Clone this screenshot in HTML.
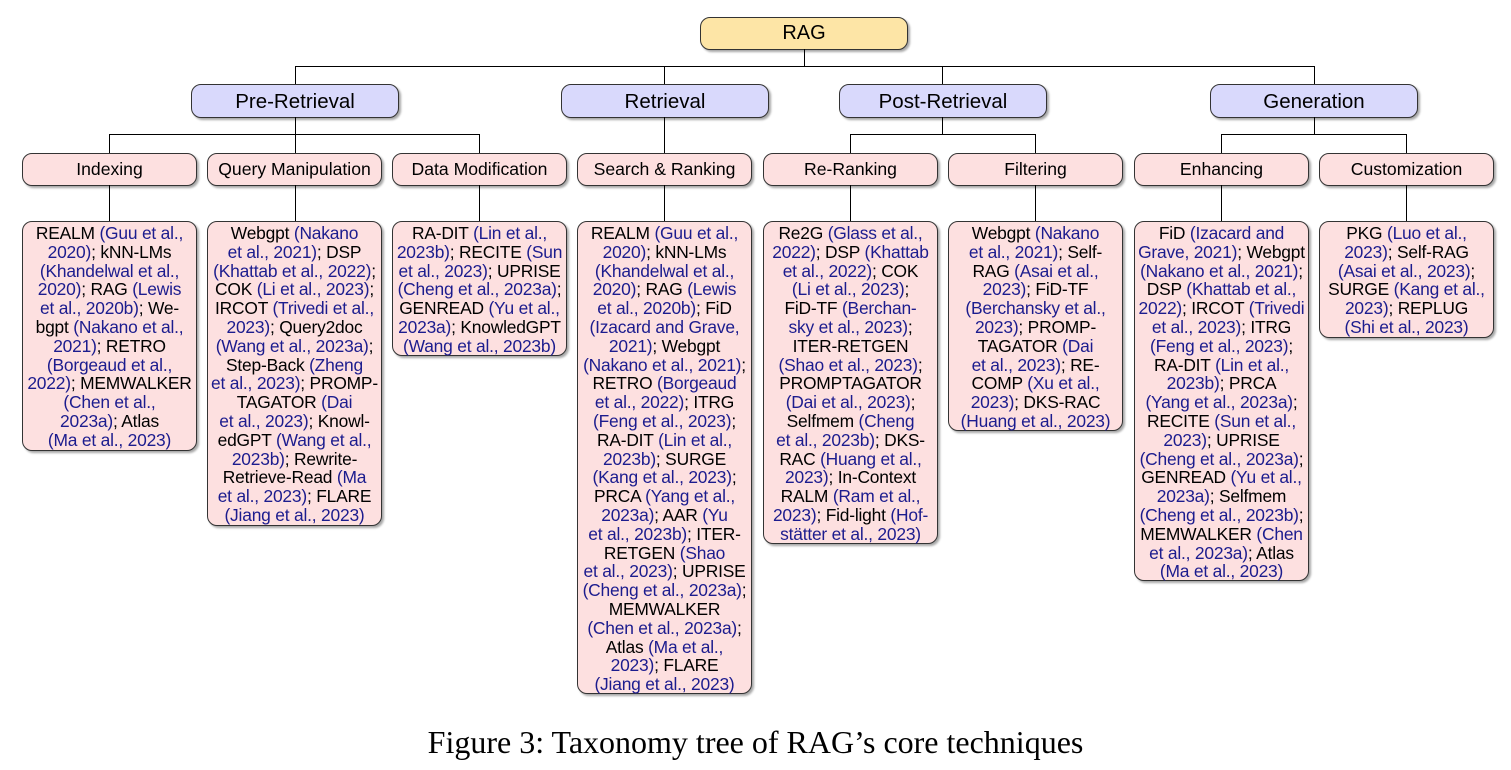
<!DOCTYPE html>
<html><head><meta charset="utf-8"><style>
body{margin:0;width:1511px;height:770px;background:#fff;position:relative;overflow:hidden;font-family:"Liberation Sans",sans-serif;}
.b{position:absolute;border:1.3px solid #333;border-radius:10px;box-sizing:border-box;box-shadow:2px 2px 2px rgba(0,0,0,0.35);text-align:center;color:#000;white-space:nowrap;}
.r{background:#fde5a6;font-size:20px;line-height:31px;}
.l1{background:#d9d9fc;font-size:20.5px;line-height:34px;}
.l2{background:#fde0e0;font-size:17.6px;line-height:30px;}
.lf{background:#fde0e0;font-size:17.4px;line-height:18.8px;padding-top:2px;letter-spacing:-0.2px;}
.c{color:#1c1c8e;}
.h{position:absolute;background:#000;height:1.3px;}
.v{position:absolute;background:#000;width:1.3px;}
.cap{position:absolute;top:724px;left:0;width:1511px;text-align:center;font-family:"Liberation Serif",serif;font-size:32px;}
</style></head><body>
<div class="b r" style="left:700px;top:17px;width:208px;height:33px">RAG</div>

<div class="v" style="left:804px;top:49px;height:17px"></div>
<div class="h" style="left:295px;top:66px;width:1020px"></div>
<div class="v" style="left:295px;top:66px;height:18px"></div>
<div class="v" style="left:664px;top:66px;height:18px"></div>
<div class="v" style="left:942px;top:66px;height:18px"></div>
<div class="v" style="left:1314px;top:66px;height:18px"></div>

<div class="b l1" style="left:191px;top:84px;width:208px;height:34px">Pre-Retrieval</div>
<div class="b l1" style="left:561px;top:84px;width:208px;height:34px">Retrieval</div>
<div class="b l1" style="left:839px;top:84px;width:208px;height:34px">Post-Retrieval</div>
<div class="b l1" style="left:1210px;top:84px;width:208px;height:34px">Generation</div>

<div class="v" style="left:295px;top:117px;height:18px"></div>
<div class="h" style="left:109px;top:134px;width:371px"></div>
<div class="v" style="left:109px;top:134px;height:19px"></div>
<div class="v" style="left:295px;top:134px;height:19px"></div>
<div class="v" style="left:479px;top:134px;height:19px"></div>
<div class="v" style="left:664px;top:117px;height:36px"></div>
<div class="v" style="left:942px;top:117px;height:18px"></div>
<div class="h" style="left:850px;top:134px;width:186px"></div>
<div class="v" style="left:850px;top:134px;height:19px"></div>
<div class="v" style="left:1035px;top:134px;height:19px"></div>
<div class="v" style="left:1314px;top:117px;height:18px"></div>
<div class="h" style="left:1221px;top:134px;width:186px"></div>
<div class="v" style="left:1221px;top:134px;height:19px"></div>
<div class="v" style="left:1406px;top:134px;height:19px"></div>

<div class="b l2" style="left:22px;top:153px;width:175px;height:33px">Indexing</div>
<div class="b l2" style="left:207px;top:153px;width:175px;height:33px">Query Manipulation</div>
<div class="b l2" style="left:392px;top:153px;width:175px;height:33px">Data Modification</div>
<div class="b l2" style="left:577px;top:153px;width:175px;height:33px">Search &amp; Ranking</div>
<div class="b l2" style="left:763px;top:153px;width:175px;height:33px">Re-Ranking</div>
<div class="b l2" style="left:948px;top:153px;width:175px;height:33px">Filtering</div>
<div class="b l2" style="left:1134px;top:153px;width:175px;height:33px">Enhancing</div>
<div class="b l2" style="left:1319px;top:153px;width:175px;height:33px">Customization</div>

<div class="v" style="left:109px;top:185px;height:36px"></div>
<div class="v" style="left:295px;top:185px;height:36px"></div>
<div class="v" style="left:479px;top:185px;height:36px"></div>
<div class="v" style="left:664px;top:185px;height:36px"></div>
<div class="v" style="left:850px;top:185px;height:36px"></div>
<div class="v" style="left:1035px;top:185px;height:36px"></div>
<div class="v" style="left:1221px;top:185px;height:36px"></div>
<div class="v" style="left:1406px;top:185px;height:36px"></div>

<div class="b lf" style="left:22px;top:221px;width:175px;height:230px">REALM <span class="c">(Guu et al.,</span><br><span class="c">2020)</span>; kNN-LMs<br><span class="c">(Khandelwal et al.,</span><br><span class="c">2020)</span>; RAG <span class="c">(Lewis</span><br><span class="c">et al., 2020b)</span>; We-<br>bgpt <span class="c">(Nakano et al.,</span><br><span class="c">2021)</span>; RETRO<br><span class="c">(Borgeaud et al.,</span><br><span class="c">2022)</span>; MEMWALKER<br><span class="c">(Chen et al.,</span><br><span class="c">2023a)</span>; Atlas<br><span class="c">(Ma et al., 2023)</span></div>

<div class="b lf" style="left:207px;top:221px;width:175px;height:305px">Webgpt <span class="c">(Nakano</span><br><span class="c">et al., 2021)</span>; DSP<br><span class="c">(Khattab et al., 2022)</span>;<br>COK <span class="c">(Li et al., 2023)</span>;<br>IRCOT <span class="c">(Trivedi et al.,</span><br><span class="c">2023)</span>; Query2doc<br><span class="c">(Wang et al., 2023a)</span>;<br>Step-Back <span class="c">(Zheng</span><br><span class="c">et al., 2023)</span>; PROMP-<br>TAGATOR <span class="c">(Dai</span><br><span class="c">et al., 2023)</span>; Knowl-<br>edGPT <span class="c">(Wang et al.,</span><br><span class="c">2023b)</span>; Rewrite-<br>Retrieve-Read <span class="c">(Ma</span><br><span class="c">et al., 2023)</span>; FLARE<br><span class="c">(Jiang et al., 2023)</span></div>

<div class="b lf" style="left:392px;top:221px;width:175px;height:135px">RA-DIT <span class="c">(Lin et al.,</span><br><span class="c">2023b)</span>; RECITE <span class="c">(Sun</span><br><span class="c">et al., 2023)</span>; UPRISE<br><span class="c">(Cheng et al., 2023a)</span>;<br>GENREAD <span class="c">(Yu et al.,</span><br><span class="c">2023a)</span>; KnowledGPT<br><span class="c">(Wang et al., 2023b)</span></div>

<div class="b lf" style="left:577px;top:221px;width:175px;height:473px">REALM <span class="c">(Guu et al.,</span><br><span class="c">2020)</span>; kNN-LMs<br><span class="c">(Khandelwal et al.,</span><br><span class="c">2020)</span>; RAG <span class="c">(Lewis</span><br><span class="c">et al., 2020b)</span>; FiD<br><span class="c">(Izacard and Grave,</span><br><span class="c">2021)</span>; Webgpt<br><span class="c">(Nakano et al., 2021)</span>;<br>RETRO <span class="c">(Borgeaud</span><br><span class="c">et al., 2022)</span>; ITRG<br><span class="c">(Feng et al., 2023)</span>;<br>RA-DIT <span class="c">(Lin et al.,</span><br><span class="c">2023b)</span>; SURGE<br><span class="c">(Kang et al., 2023)</span>;<br>PRCA <span class="c">(Yang et al.,</span><br><span class="c">2023a)</span>; AAR <span class="c">(Yu</span><br><span class="c">et al., 2023b)</span>; ITER-<br>RETGEN <span class="c">(Shao</span><br><span class="c">et al., 2023)</span>; UPRISE<br><span class="c">(Cheng et al., 2023a)</span>;<br>MEMWALKER<br><span class="c">(Chen et al., 2023a)</span>;<br>Atlas <span class="c">(Ma et al.,</span><br><span class="c">2023)</span>; FLARE<br><span class="c">(Jiang et al., 2023)</span></div>

<div class="b lf" style="left:763px;top:221px;width:175px;height:323px">Re2G <span class="c">(Glass et al.,</span><br><span class="c">2022)</span>; DSP <span class="c">(Khattab</span><br><span class="c">et al., 2022)</span>; COK<br><span class="c">(Li et al., 2023)</span>;<br>FiD-TF <span class="c">(Berchan-</span><br><span class="c">sky et al., 2023)</span>;<br>ITER-RETGEN<br><span class="c">(Shao et al., 2023)</span>;<br>PROMPTAGATOR<br><span class="c">(Dai et al., 2023)</span>;<br>Selfmem <span class="c">(Cheng</span><br><span class="c">et al., 2023b)</span>; DKS-<br>RAC <span class="c">(Huang et al.,</span><br><span class="c">2023)</span>; In-Context<br>RALM <span class="c">(Ram et al.,</span><br><span class="c">2023)</span>; Fid-light <span class="c">(Hof-</span><br><span class="c">stätter et al., 2023)</span></div>

<div class="b lf" style="left:948px;top:221px;width:175px;height:210px">Webgpt <span class="c">(Nakano</span><br><span class="c">et al., 2021)</span>; Self-<br>RAG <span class="c">(Asai et al.,</span><br><span class="c">2023)</span>; FiD-TF<br><span class="c">(Berchansky et al.,</span><br><span class="c">2023)</span>; PROMP-<br>TAGATOR <span class="c">(Dai</span><br><span class="c">et al., 2023)</span>; RE-<br>COMP <span class="c">(Xu et al.,</span><br><span class="c">2023)</span>; DKS-RAC<br><span class="c">(Huang et al., 2023)</span></div>

<div class="b lf" style="left:1134px;top:221px;width:175px;height:360px">FiD <span class="c">(Izacard and</span><br><span class="c">Grave, 2021)</span>; Webgpt<br><span class="c">(Nakano et al., 2021)</span>;<br>DSP <span class="c">(Khattab et al.,</span><br><span class="c">2022)</span>; IRCOT <span class="c">(Trivedi</span><br><span class="c">et al., 2023)</span>; ITRG<br><span class="c">(Feng et al., 2023)</span>;<br>RA-DIT <span class="c">(Lin et al.,</span><br><span class="c">2023b)</span>; PRCA<br><span class="c">(Yang et al., 2023a)</span>;<br>RECITE <span class="c">(Sun et al.,</span><br><span class="c">2023)</span>; UPRISE<br><span class="c">(Cheng et al., 2023a)</span>;<br>GENREAD <span class="c">(Yu et al.,</span><br><span class="c">2023a)</span>; Selfmem<br><span class="c">(Cheng et al., 2023b)</span>;<br>MEMWALKER <span class="c">(Chen</span><br><span class="c">et al., 2023a)</span>; Atlas<br><span class="c">(Ma et al., 2023)</span></div>

<div class="b lf" style="left:1319px;top:221px;width:175px;height:117px">PKG <span class="c">(Luo et al.,</span><br><span class="c">2023)</span>; Self-RAG<br><span class="c">(Asai et al., 2023)</span>;<br>SURGE <span class="c">(Kang et al.,</span><br><span class="c">2023)</span>; REPLUG<br><span class="c">(Shi et al., 2023)</span></div>

<div class="cap">Figure 3: Taxonomy tree of RAG’s core techniques</div>
</body></html>
